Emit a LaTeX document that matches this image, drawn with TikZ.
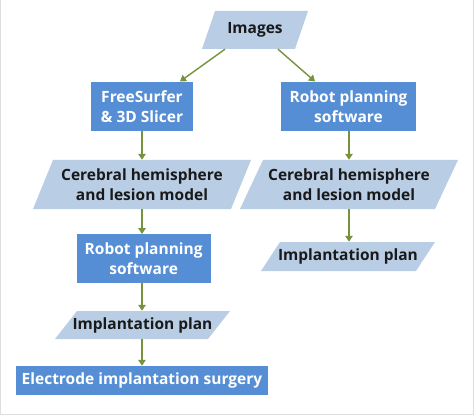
\documentclass[tikz,border=0pt]{standalone}
\usepackage{fontspec}
\setmainfont{Open Sans}
\usetikzlibrary{arrows.meta}
\definecolor{boxblue}{HTML}{558ED5}
\definecolor{parablue}{HTML}{B9CDE5}
\definecolor{arrgreen}{HTML}{76923C}
\newcommand{\mypara}[7]{%
  \fill[parablue] ({#2-#4/2-#6/2},{#3+#5/2}) -- ({#2-#4/2+#6/2},{#3-#5/2}) -- ({#2+#4/2+#6/2},{#3-#5/2}) -- ({#2+#4/2-#6/2},{#3+#5/2}) -- cycle;
  \node[paras, minimum width=#4pt, minimum height=#5pt] (#1) at (#2,#3) {#7};}
\begin{document}
\begin{tikzpicture}[x=1pt,y=-1pt,
  txt/.style={font=\bfseries\fontsize{15.5}{20}\selectfont, align=center, inner sep=0pt},
  boxs/.style={txt, fill=boxblue, text=white},
  paras/.style={txt, text=black!90},
  arr/.style={draw=arrgreen, line width=1.4pt, -{Triangle[length=6pt,width=7.5pt]}},
  frame/.style={draw=black!13, line width=0.6pt}]
\useasboundingbox (0,0) rectangle (474,417);
\draw[frame] (0.5,0) -- (0.5,414.5) -- (473.5,414.5) -- (473.5,0);
% parallelograms
\mypara{img}{255}{30}{93}{38}{13}{Images}
\mypara{cerL}{142}{184.5}{198}{49}{20}{Cerebral hemisphere\\and lesion model}
\mypara{cerR}{349}{184.5}{195}{49}{23}{Cerebral hemisphere\\and lesion model}
\mypara{planR}{348}{256.5}{155}{29}{19}{Implantation plan}
\mypara{planL}{142.5}{325}{153}{28}{22}{Implantation plan}
% boxes
\node[boxs, minimum width=102.7pt, minimum height=49.3pt] (fs) at (142,106.3) {FreeSurfer\\\&~3D Slicer};
\node[boxs, minimum width=135pt, minimum height=49.3pt] (robR) at (348.5,106.3) {Robot planning\\software};
\node[boxs, minimum width=134pt, minimum height=49pt] (robL) at (143.7,258.7) {Robot planning\\software};
\node[boxs, minimum width=252pt, minimum height=29pt] (elec) at (142,380.5) {Electrode implantation surgery};
% arrows
\draw[arr] ([xshift=-30pt]img.south) -- ([xshift=38pt]fs.north);
\draw[arr] ([xshift=23pt]img.south) -- ([xshift=-33.5pt]robR.north);
\draw[arr] (fs.south) -- (cerL.north);
\draw[arr] (cerL.south) -- (robL.north -| cerL.south);
\draw[arr] (robL.south -| cerL.south) -- (planL.north -| cerL.south);
\draw[arr] (planL.south -| cerL.south) -- (elec.north -| cerL.south);
\draw[arr] (robR.south -| cerR.south) -- (cerR.north);
\draw[arr] (cerR.south) -- (planR.north -| cerR.south);
\end{tikzpicture}
\end{document}
